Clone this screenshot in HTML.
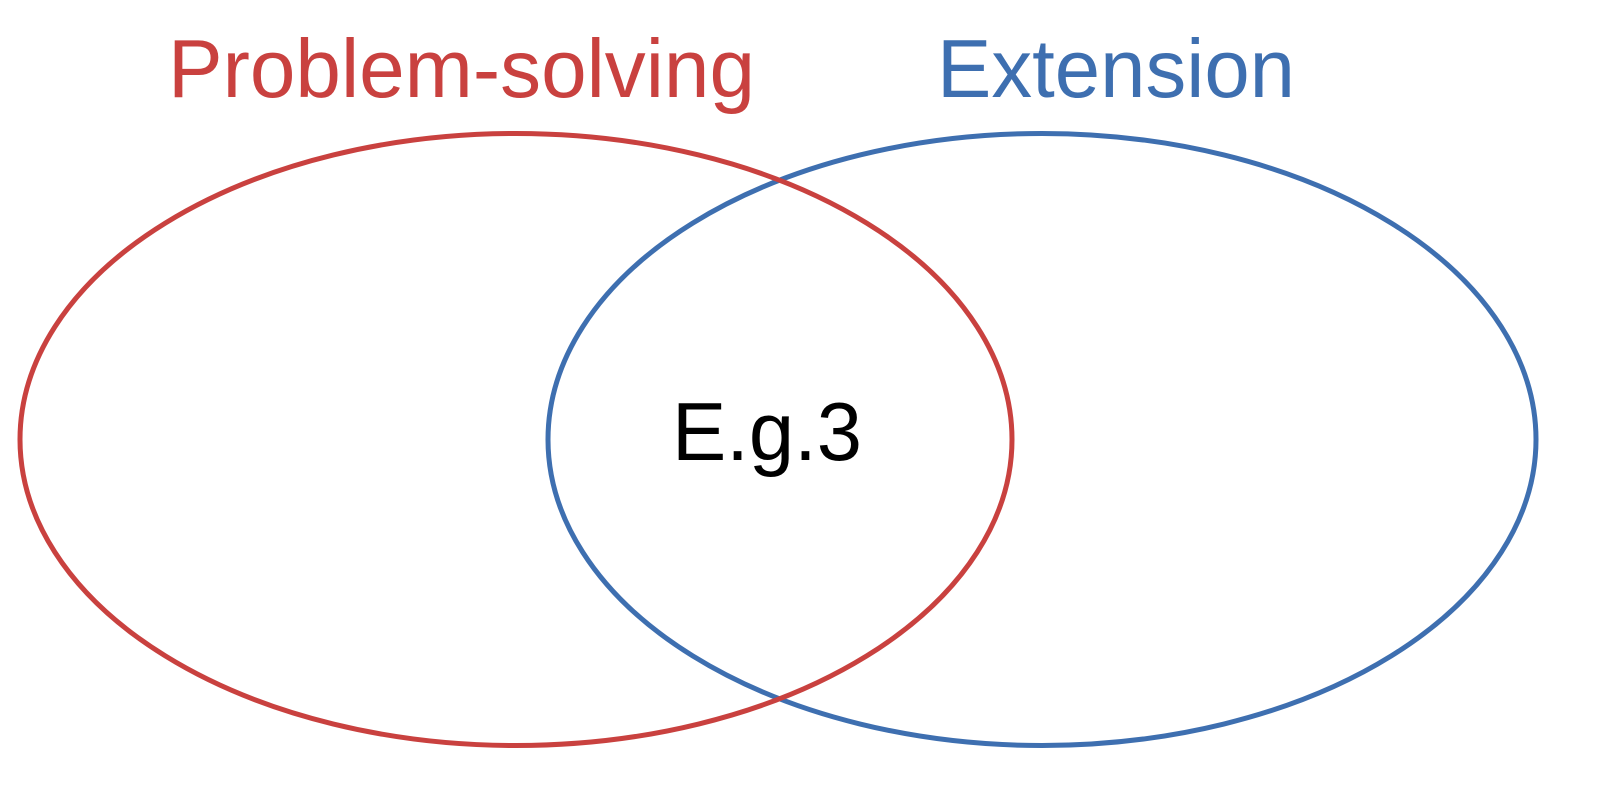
<!DOCTYPE html>
<html><head><style>html,body{margin:0;padding:0;background:#fff}</style></head>
<body>
<svg width="1600" height="799" viewBox="0 0 1600 799" xmlns="http://www.w3.org/2000/svg">
<rect width="1600" height="799" fill="#fff"/>
<ellipse cx="1042" cy="439.5" rx="494" ry="306" fill="none" stroke="#3e6fb0" stroke-width="5"/>
<ellipse cx="516" cy="439.5" rx="496" ry="306" fill="none" stroke="#c9413f" stroke-width="5"/>
<g font-family="Liberation Sans, Arial, sans-serif" font-size="83">
<text x="168" y="97" fill="#c9413f" textLength="587" lengthAdjust="spacingAndGlyphs">Problem-solving</text>
<text x="937" y="97" fill="#3e6fb0" textLength="358" lengthAdjust="spacingAndGlyphs">Extension</text>
<text x="672" y="460" fill="#000" textLength="190" lengthAdjust="spacingAndGlyphs">E.g.3</text>
</g>
</svg>
</body></html>
